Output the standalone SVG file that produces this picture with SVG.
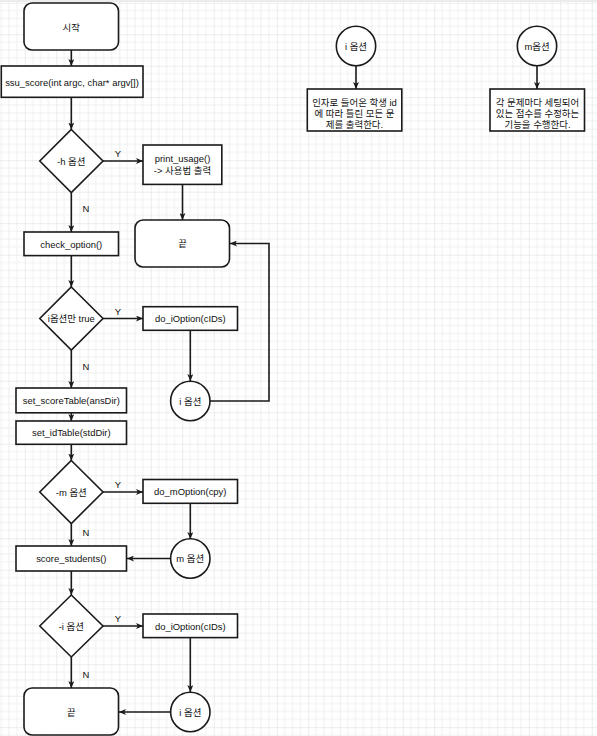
<svg xmlns="http://www.w3.org/2000/svg" width="597" height="736" viewBox="0 0 597 736">
<defs>
<pattern id="grid" patternUnits="userSpaceOnUse" x="24.8" y="2.7" width="31.5" height="31.5">
<rect width="31.5" height="31.5" fill="#ffffff"/>
<g fill="#f1f1f1">
<rect x="7.4" y="0" width="1" height="31.5"/>
<rect x="15.25" y="0" width="1" height="31.5"/>
<rect x="23.1" y="0" width="1" height="31.5"/>
<rect x="0" y="7.4" width="31.5" height="1"/>
<rect x="0" y="15.25" width="31.5" height="1"/>
<rect x="0" y="23.1" width="31.5" height="1"/>
</g>
<g fill="#dddddd">
<rect x="-0.5" y="0" width="1" height="31.5"/>
<rect x="0" y="-0.5" width="31.5" height="1"/>
</g>
</pattern>
<marker id="arr" viewBox="0 0 7 6" refX="7" refY="3" markerWidth="7" markerHeight="6" markerUnits="userSpaceOnUse" orient="auto">
<path d="M0,0 L7,3 L0,6 L1.8,3 z" fill="#1a1a1a"/>
</marker>
</defs>
<style>
.box{fill:#ffffff;stroke:#1a1a1a;stroke-width:1.6}
.t{font-family:"Liberation Sans","Noto Sans CJK KR",sans-serif;font-size:9.45px;fill:#111;text-anchor:middle;dominant-baseline:central}
.c{fill:none;stroke:#1a1a1a;stroke-width:1.6;marker-end:url(#arr)}
.l{fill:none;stroke:#1a1a1a;stroke-width:1.6}
</style>
<rect width="597" height="736" fill="url(#grid)"/>
<rect width="597" height="2" fill="#ececec"/>

<g id="connectors">
<path class="c" d="M71.3,50 V66"/>
<path class="c" d="M71.3,97 V129.5"/>
<path class="c" d="M103,161 H143"/>
<path class="c" d="M182.5,184 V220"/>
<path class="c" d="M71.3,192.5 V232"/>
<path class="c" d="M71.3,255.5 V287"/>
<path class="c" d="M103,318.5 H143"/>
<path class="c" d="M190.3,330 V381"/>
<path class="c" d="M210,401 H269 V243.5 H230"/>
<path class="c" d="M71.3,350 V388"/>
<path class="c" d="M71.3,413 V421"/>
<path class="c" d="M71.3,444 V460.5"/>
<path class="c" d="M103,492 H143"/>
<path class="c" d="M190.3,503.5 V539"/>
<path class="c" d="M170.6,558.5 H127"/>
<path class="c" d="M71.3,523.5 V546"/>
<path class="c" d="M71.3,571 V595"/>
<path class="c" d="M103,626 H143"/>
<path class="c" d="M190.3,637.5 V692"/>
<path class="c" d="M170.6,712 H119"/>
<path class="c" d="M71.3,657 V688"/>
<path class="c" d="M356,66 V89"/>
<path class="c" d="M537,66 V89"/>
<text class="t" x="118" y="153">Y</text>
<text class="t" x="86" y="208">N</text>
<text class="t" x="118" y="311">Y</text>
<text class="t" x="86" y="366">N</text>
<text class="t" x="118" y="484">Y</text>
<text class="t" x="86" y="532">N</text>
<text class="t" x="118" y="618">Y</text>
<text class="t" x="86" y="674">N</text>
</g>

<g id="start"><rect class="box" x="24" y="3" width="94.5" height="47" rx="8"/><text class="t" x="71.3" y="27">시작</text></g>
<g id="ssu_score"><rect class="box" x="1.3" y="66" width="141.7" height="31.3"/><text class="t" x="72" y="82">ssu_score(int argc, char* argv[])</text></g>
<g id="h_option"><path class="box" d="M71.3,129.5 L103,161 L71.3,192.5 L39.8,161 Z"/><text class="t" x="71.3" y="161">-h 옵션</text></g>
<g id="print_usage"><rect class="box" x="143" y="145" width="78.8" height="39.4"/><text class="t" x="182.5" y="158">print_usage()</text><text class="t" x="182.5" y="170">-&gt; 사용법 출력</text></g>
<g id="end1"><rect class="box" x="135" y="220" width="94.5" height="47" rx="8"/><text class="t" x="182.5" y="243.5">끝</text></g>
<g id="check_option"><rect class="box" x="24" y="232" width="94.5" height="23.6"/><text class="t" x="71.3" y="244">check_option()</text></g>
<g id="i_only"><path class="box" d="M71.3,287 L103,318.5 L71.3,350 L39.8,318.5 Z"/><text class="t" x="71.3" y="318.5">i옵션만 true</text></g>
<g id="do_iOption1"><rect class="box" x="143" y="306.7" width="94.5" height="23.6"/><text class="t" x="190.3" y="318.5">do_iOption(cIDs)</text></g>
<g id="circle_i1"><circle class="box" cx="190.3" cy="401" r="19.7"/><text class="t" x="190.3" y="401">i 옵션</text></g>
<g id="set_scoreTable"><rect class="box" x="16" y="388" width="110.5" height="24.8"/><text class="t" x="71.3" y="400.5">set_scoreTable(ansDir)</text></g>
<g id="set_idTable"><rect class="box" x="16" y="421" width="110.5" height="23.3"/><text class="t" x="71.3" y="432.7">set_idTable(stdDir)</text></g>
<g id="m_option"><path class="box" d="M71.3,460.5 L103,492 L71.3,523.5 L39.8,492 Z"/><text class="t" x="71.3" y="492">-m 옵션</text></g>
<g id="do_mOption"><rect class="box" x="143" y="479.5" width="94.5" height="23.8"/><text class="t" x="190.3" y="491.5">do_mOption(cpy)</text></g>
<g id="circle_m"><circle class="box" cx="190.3" cy="558.5" r="19.7"/><text class="t" x="190.3" y="558.5">m 옵션</text></g>
<g id="score_students"><rect class="box" x="16" y="546" width="110.5" height="25"/><text class="t" x="71.3" y="558.5">score_students()</text></g>
<g id="i_option"><path class="box" d="M71.3,595 L103,626 L71.3,657 L39.8,626 Z"/><text class="t" x="71.3" y="626">-i 옵션</text></g>
<g id="do_iOption2"><rect class="box" x="143" y="614" width="94.5" height="23.6"/><text class="t" x="190.3" y="626">do_iOption(cIDs)</text></g>
<g id="circle_i2"><circle class="box" cx="190.3" cy="712" r="19.7"/><text class="t" x="190.3" y="712">i 옵션</text></g>
<g id="end2"><rect class="box" x="24" y="688" width="94.5" height="47" rx="8"/><text class="t" x="71.3" y="712">끝</text></g>
<g id="legend_i"><circle class="box" cx="356" cy="46" r="19.7"/><text class="t" x="356" y="46">i 옵션</text></g>
<g id="legend_i_desc"><rect class="box" x="307.3" y="89" width="94.5" height="42"/><text class="t" x="354.5" y="102">인자로 들어온 학생 id</text><text class="t" x="354.5" y="113">에 따라 틀린 모든 문</text><text class="t" x="354.5" y="124.5">제를 출력한다.</text></g>
<g id="legend_m"><circle class="box" cx="537" cy="46" r="19.7"/><text class="t" x="537" y="46">m옵션</text></g>
<g id="legend_m_desc"><rect class="box" x="490" y="89" width="94.5" height="42"/><text class="t" x="537.5" y="102">각 문제마다 세팅되어</text><text class="t" x="537.5" y="113">있는 점수를 수정하는</text><text class="t" x="537.5" y="124.5">기능을 수행한다.</text></g>
</svg>
